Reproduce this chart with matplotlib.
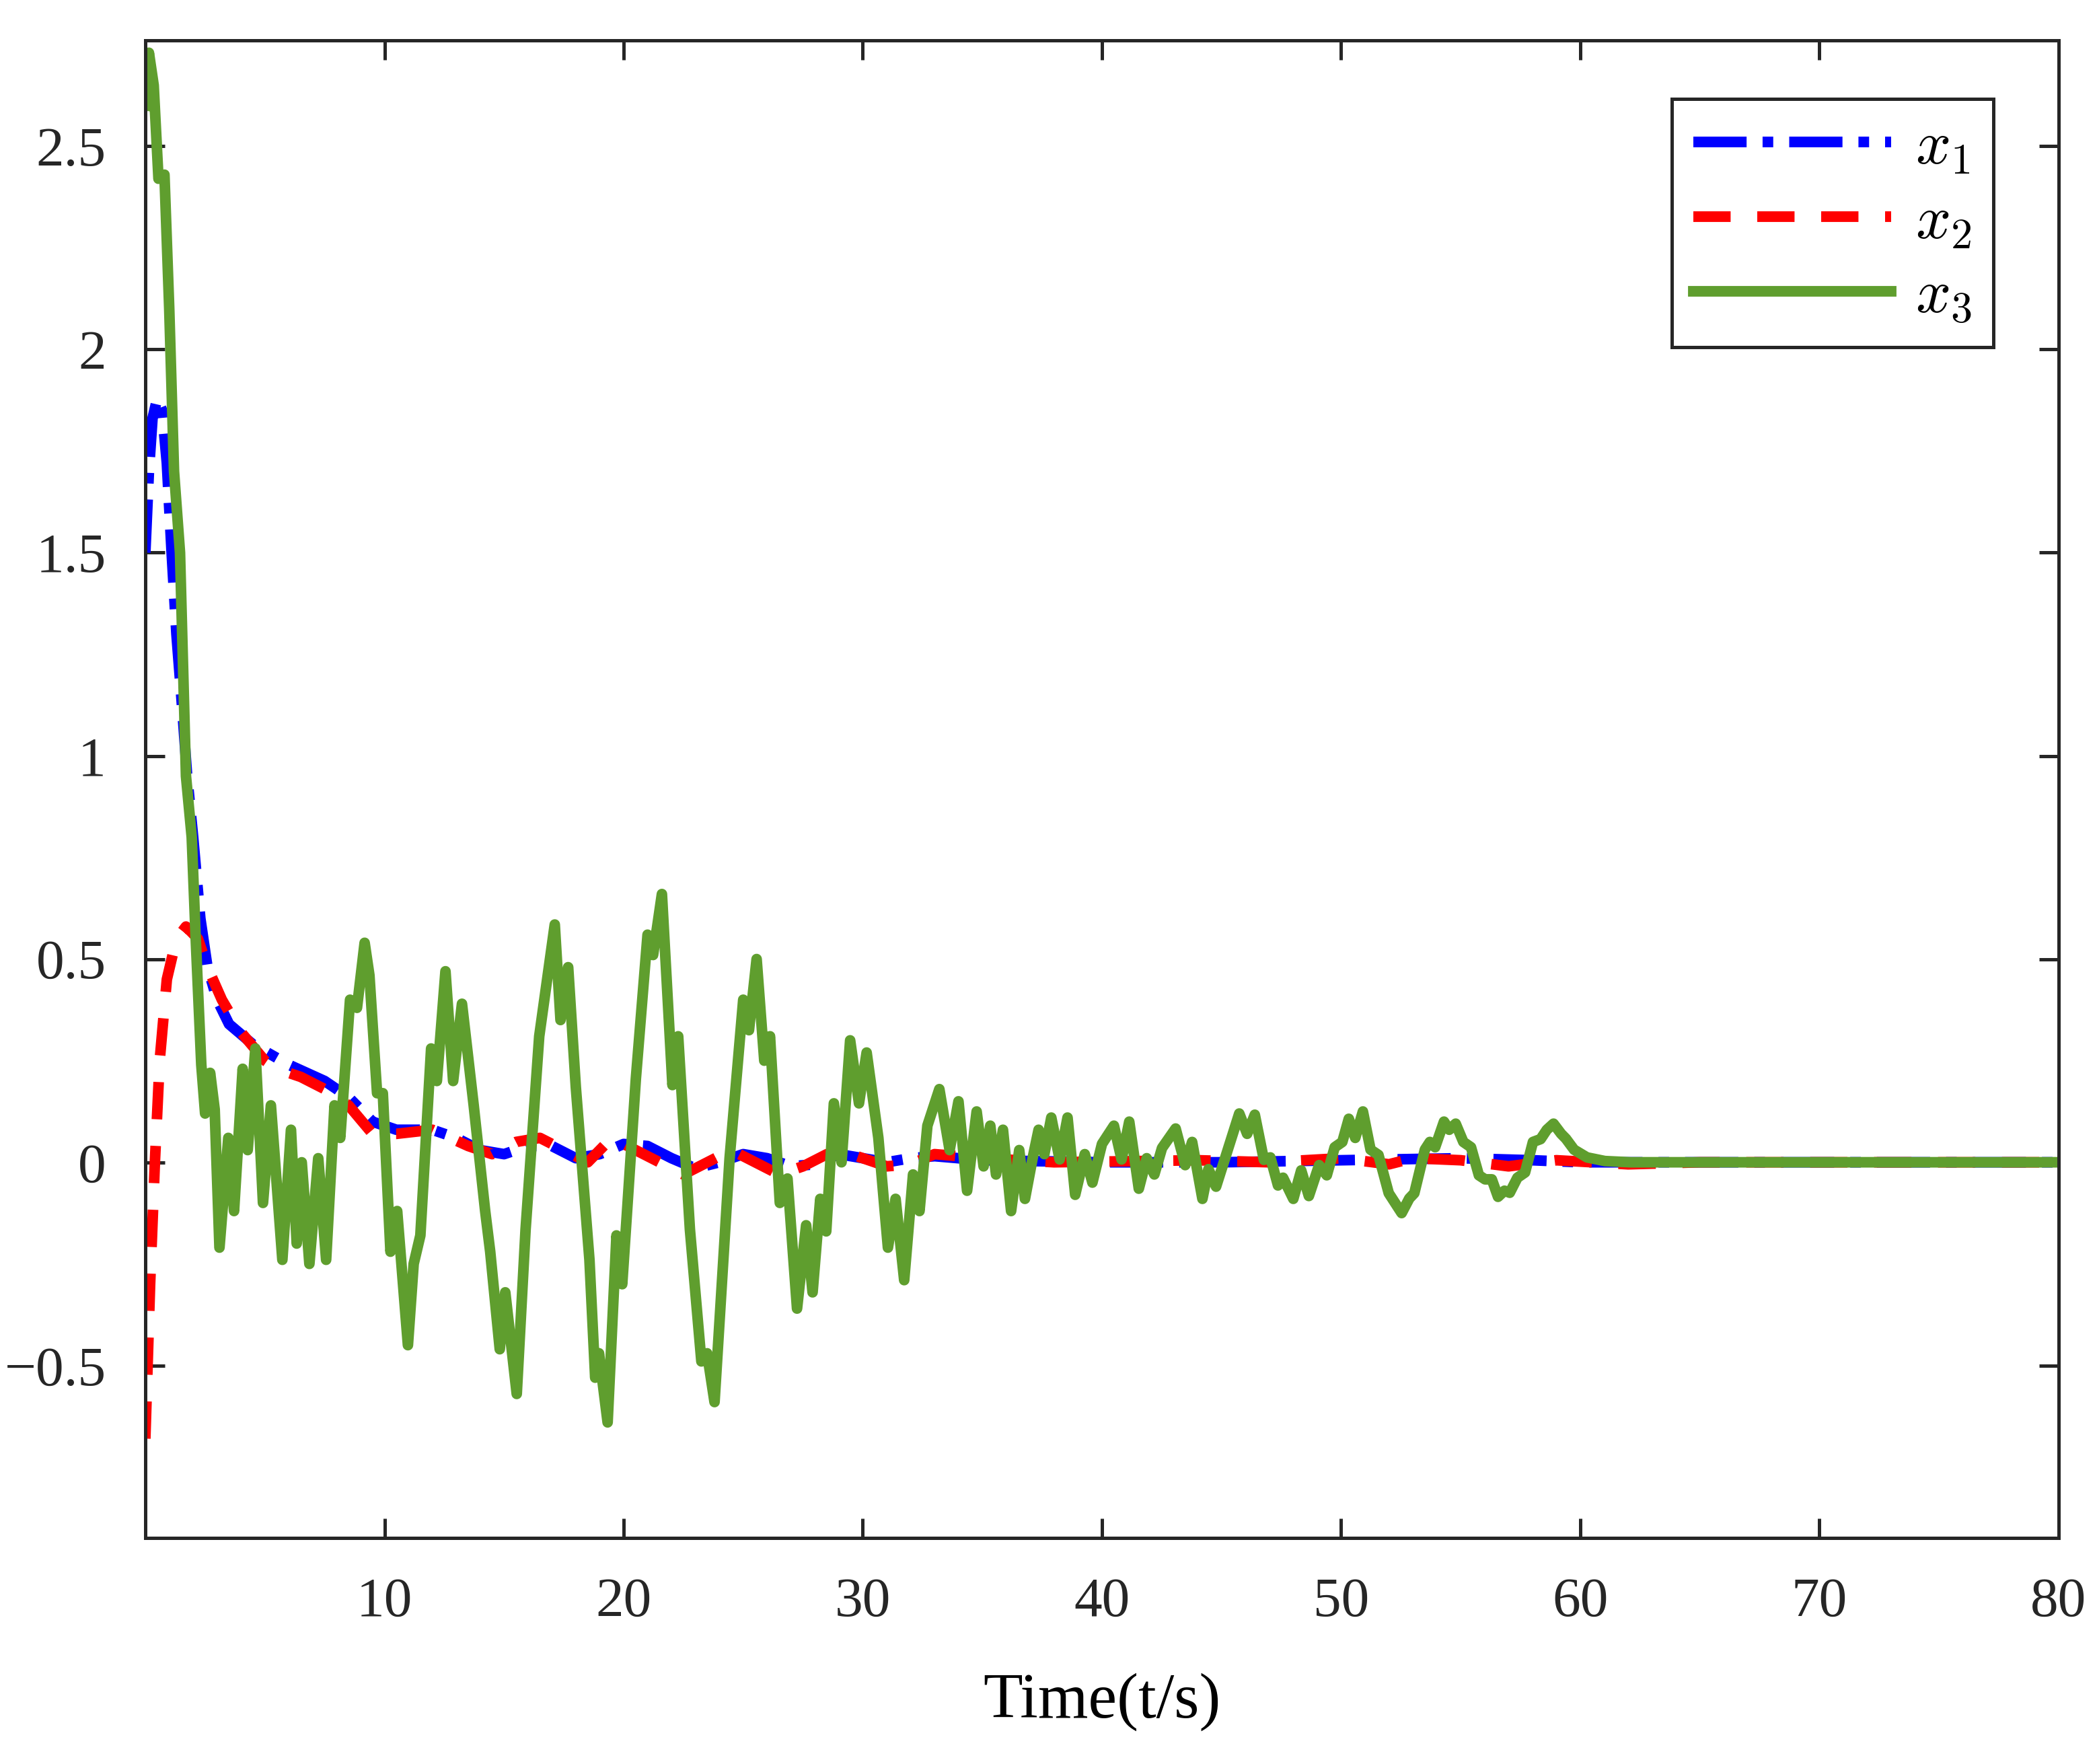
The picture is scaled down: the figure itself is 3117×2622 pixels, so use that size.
import numpy as np
import matplotlib.pyplot as plt

plt.rcParams['font.family'] = ['Liberation Serif', 'DejaVu Serif']
plt.rcParams['mathtext.fontset'] = 'cm'

# x1 (blue, dash-dot)
t1 = [0, 0.15, 0.3, 0.5, 0.7, 0.9, 1.1, 1.3, 1.5, 1.75, 2.0, 2.3, 2.6, 3.0, 3.5, 4.5, 6, 7.5, 8.5, 9.5, 10.5,
      12, 13, 14, 15, 16, 17, 18, 19, 20, 21, 22, 23, 24, 25, 26, 27, 28, 29, 30, 31, 32, 33,
      35, 40, 45, 50, 55, 58, 60, 80]
x1 = [1.5, 1.7, 1.83, 1.88, 1.85, 1.72, 1.5, 1.3, 1.15, 0.95, 0.8, 0.6, 0.48, 0.4, 0.34, 0.29, 0.24, 0.2, 0.16, 0.1, 0.08,
      0.08, 0.06, 0.03, 0.02, 0.04, 0.04, 0.01, 0.02, 0.045, 0.04, 0.01, -0.015, 0.0, 0.02, 0.01, -0.01, -0.005, 0.02, 0.01, 0.0, 0.01, 0.015,
      0.005, 0.0, 0.0, 0.005, 0.01, 0.005, 0.0, 0.0]

# x2 (red, dashed)
t2 = [0, 0.2, 0.4, 0.6, 0.9, 1.3, 1.7, 2.2, 2.6, 3.2, 4, 5, 5.5, 6.5, 7.5, 8.5, 9.5, 10.5, 12, 13.5,
      14.5, 15.5, 16.5, 17.5, 18.5, 19.5, 20.5, 21.5, 22.5, 23.5, 24.5, 25.5, 26.5, 27.5, 28.5, 29.5,
      31, 32, 33, 35, 38, 44, 47, 50, 52, 53, 55, 57, 59, 62, 65, 80]
x2 = [-0.68, -0.3, 0.0, 0.25, 0.45, 0.55, 0.58, 0.55, 0.48, 0.4, 0.32, 0.25, 0.23, 0.21, 0.18, 0.14, 0.07, 0.07, 0.08, 0.04,
      0.02, 0.05, 0.06, 0.03, 0.0, 0.06, 0.03, 0.0, -0.03, 0.0, 0.03, 0.0, -0.03, -0.01, 0.02, 0.02,
      -0.01, -0.005, 0.02, 0.01, 0.0, 0.005, 0.0, 0.01, -0.005, 0.01, 0.005, -0.01, 0.005, -0.005, 0.0, 0.0]

# x3 (green, solid)
t3 = [0, 0.15, 0.35, 0.55, 0.8, 1.0, 1.2, 1.45, 1.7, 1.94, 2.1, 2.34, 2.5, 2.71, 2.9, 3.1, 3.47, 3.71,
      4.07, 4.28, 4.6, 4.92, 5.25, 5.73, 6.09, 6.33, 6.54, 6.86, 7.23, 7.56, 7.91, 8.15, 8.56, 8.85,
      9.17, 9.37, 9.69, 9.93, 10.25, 10.53, 10.98, 11.22, 11.5, 11.95, 12.19, 12.55, 12.87, 13.24,
      13.73, 14.21, 14.42, 14.82, 15.05, 15.53, 15.9, 16.47, 17.12, 17.36, 17.68, 18.0, 18.57, 18.81,
      18.97, 19.33, 19.7, 19.94, 20.51, 21.0, 21.23, 21.6, 22.04, 22.28, 22.77, 23.25, 23.49, 23.8,
      24.43, 25.0, 25.24, 25.56, 25.88, 26.12, 26.53, 26.85, 27.25, 27.63, 27.9, 28.22, 28.47, 28.79,
      29.11, 29.47, 29.84, 30.16, 30.65, 31.05, 31.37, 31.73, 32.1, 32.37, 32.7, 33.2, 33.63, 34.0,
      34.36, 34.76, 35.05, 35.33, 35.57, 35.86, 36.2, 36.54, 36.78, 37.1, 37.35, 37.59, 37.88, 38.23,
      38.56, 38.88, 39.28, 39.6, 40.0, 40.5, 40.82, 41.14, 41.54, 41.87, 42.19, 42.51, 43.08, 43.48,
      43.77, 44.2, 44.45, 44.77, 45.18, 45.74, 46.07, 46.39, 46.77, 47.04, 47.36, 47.57, 48.0, 48.33,
      48.65, 49.08, 49.4, 49.73, 50.05, 50.32, 50.59, 50.91, 51.23, 51.56, 51.99, 52.31, 52.53, 52.85,
      53.06, 53.5, 53.71, 53.93, 54.3, 54.52, 54.79, 55.11, 55.43, 55.76, 56.02, 56.3, 56.56, 56.83,
      57.05, 57.37, 57.69, 58.02, 58.34, 58.6, 58.88, 59.2, 59.4, 59.74, 60.28, 61.03, 62.1, 80]
x3 = [2.6, 2.73, 2.65, 2.42, 2.43, 2.1, 1.7, 1.5, 0.95, 0.8, 0.56, 0.24, 0.12, 0.22, 0.13, -0.21, 0.06, -0.12,
      0.23, 0.03, 0.28, -0.10, 0.14, -0.24, 0.08, -0.2, 0.0, -0.25, 0.01, -0.24, 0.14, 0.06, 0.40, 0.38,
      0.54, 0.46, 0.17, 0.17, -0.22, -0.12, -0.45, -0.25, -0.18, 0.28, 0.20, 0.47, 0.20, 0.39,
      0.14, -0.12, -0.22, -0.46, -0.32, -0.57, -0.165, 0.31, 0.585, 0.35, 0.48, 0.185, -0.24, -0.53,
      -0.47, -0.64, -0.18, -0.30, 0.205, 0.56, 0.51, 0.66, 0.19, 0.31, -0.165, -0.49, -0.47, -0.59,
      0.01, 0.40, 0.325, 0.50, 0.25, 0.31, -0.10, -0.04, -0.36, -0.155, -0.32, -0.09, -0.17, 0.145,
      0.0, 0.30, 0.145, 0.27, 0.06, -0.21, -0.09, -0.29, -0.03, -0.12, 0.09, 0.18, 0.03, 0.15,
      -0.07, 0.125, -0.01, 0.09, -0.03, 0.08, -0.12, 0.03, -0.09, 0.01, 0.08, 0.02, 0.11, 0.007,
      0.11, -0.08, 0.02, -0.05, 0.045, 0.09, 0.007, 0.10, -0.065, 0.01, -0.03, 0.035, 0.083, -0.007,
      0.05, -0.09, -0.017, -0.06, 0.016, 0.12, 0.07, 0.117, 0.006, 0.012, -0.057, -0.038, -0.09, -0.02,
      -0.083, -0.007, -0.032, 0.037, 0.05, 0.107, 0.06, 0.125, 0.031, 0.018, -0.076, -0.105, -0.125, -0.089,
      -0.076, 0.031, 0.05, 0.037, 0.1, 0.08, 0.095, 0.05, 0.037, -0.032, -0.042, -0.042, -0.085, -0.07,
      -0.075, -0.038, -0.025, 0.05, 0.057, 0.08, 0.095, 0.07, 0.058, 0.031, 0.012, 0.003, 0.0, 0.0]

fig = plt.figure(figsize=(3117 / 300, 2622 / 300), dpi=300)
ax = fig.add_axes([0.0693, 0.128, 0.9124, 0.849])

ax.plot(t1, x1, color='#0000ff', linestyle=(0, (5, 1.5, 1, 1.5)), linewidth=3.8, label='$x_1$')
ax.plot(t2, x2, color='#ff0000', linestyle=(0, (3.5, 2.5)), linewidth=3.8, label='$x_2$')
ax.plot(t3, x3, color='#5f9e2e', linestyle='-', linewidth=3.8, label='$x_3$')

ax.set_xlim(0, 80)
ax.set_ylim(-0.925, 2.76)
ax.set_xticks([10, 20, 30, 40, 50, 60, 70, 80])
ax.set_yticks([-0.5, 0, 0.5, 1, 1.5, 2, 2.5])
ax.set_yticklabels(['\u22120.5', '0', '0.5', '1', '1.5', '2', '2.5'])
ax.tick_params(direction='in', top=True, right=True, length=7, width=1.2,
               labelsize=20, pad=14, colors='#262626')
for s in ax.spines.values():
    s.set_linewidth(1.2)
    s.set_color('#262626')
ax.set_xlabel('Time(t/s)', fontsize=23, labelpad=16)

leg = ax.legend(loc='upper right', bbox_to_anchor=(0.966, 0.961), fontsize=22,
                handlelength=3.2, fancybox=False, framealpha=1, borderaxespad=0,
                labelspacing=0.3, handletextpad=0.4, borderpad=0.35)
leg.get_frame().set_edgecolor('#262626')
leg.get_frame().set_linewidth(1.2)

fig.savefig('out.png', dpi=300)
